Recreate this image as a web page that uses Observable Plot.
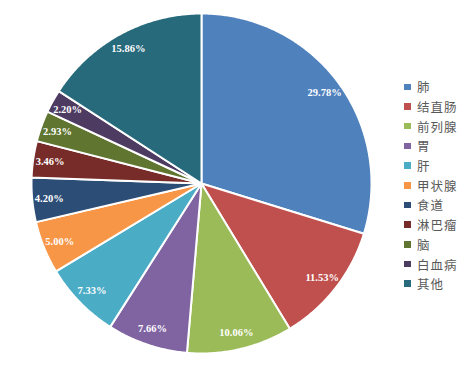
<!DOCTYPE html>
<html>
<head>
<meta charset="utf-8">
<script src="https://cdn.jsdelivr.net/npm/d3@7"></script>
<script src="https://cdn.jsdelivr.net/npm/@observablehq/plot@0.6"></script>
<style>
  html, body { margin: 0; padding: 0; background: #fff; }
  #wrap { position: relative; width: 474px; height: 370px; overflow: hidden; }
  #legend { position: absolute; left: 404px; top: 77px; font-family: "Noto Sans CJK SC", "Noto Sans", sans-serif; font-size: 12.5px; color: #595959; }
  #legend .item { display: flex; align-items: center; height: 19.7px; white-space: nowrap; }
  #legend .sw { width: 6.5px; height: 6.5px; margin-right: 6.5px; flex-shrink: 0; }
  #legend .lb { letter-spacing: 1px; }
</style>
</head>
<body>
<div id="wrap"></div>
<script>
const categories = ["肺", "结直肠", "前列腺", "胃", "肝", "甲状腺", "食道", "淋巴瘤", "脑", "白血病", "其他"];
const shares = [29.78, 11.53, 10.06, 7.66, 7.33, 5.00, 4.20, 3.46, 2.93, 2.20, 15.86];
const labels = ["29.78%", "11.53%", "10.06%", "7.66%", "7.33%", "5.00%", "4.20%", "3.46%", "2.93%", "2.20%", "15.86%"];
const colors = ["#4F81BD", "#C0504D", "#9BBB59", "#8064A2", "#4BACC6", "#F79646", "#2C4D75", "#772C2A", "#5F7530", "#4D3B62", "#276A7C"];

const rows = categories.map((c, i) => ({category: c, value: shares[i], label: labels[i]}));
const arcs = d3.pie().sort(null).value(d => d.value)(rows);

// slice outlines (unit circle, angle measured clockwise from 12 o'clock)
const outline = [];
arcs.forEach(a => {
  const c = a.data.category;
  outline.push({category: c, x: 0, y: 0});
  const n = Math.max(2, Math.ceil((a.endAngle - a.startAngle) / (Math.PI / 360)));
  for (let k = 0; k <= n; k++) {
    const t = a.startAngle + (a.endAngle - a.startAngle) * k / n;
    outline.push({category: c, x: Math.sin(t), y: Math.cos(t)});
  }
  outline.push({category: c, x: 0, y: 0});
});

const labelPts = arcs.map(a => {
  const m = (a.startAngle + a.endAngle) / 2;
  return {label: a.data.label, x: 0.9 * Math.sin(m), y: 0.9 * Math.cos(m)};
});

const chart = Plot.plot({
  width: 474,
  height: 370,
  marginLeft: 31,
  marginRight: 103,
  marginTop: 13,
  marginBottom: 17,
  x: {domain: [-1, 1], axis: null},
  y: {domain: [-1, 1], axis: null},
  color: {domain: categories, range: colors},
  style: {background: "#fff"},
  marks: [
    Plot.line(outline, {x: "x", y: "y", z: "category", fill: "category", stroke: "white", strokeWidth: 2, strokeLinejoin: "round", curve: "linear"}),
    Plot.text(labelPts, {x: "x", y: "y", text: "label", fill: "white", fontWeight: "bold", fontSize: 10.5, fontFamily: "'Liberation Serif', 'DejaVu Serif', serif"})
  ]
});

const wrap = document.getElementById("wrap");
wrap.appendChild(chart);

const colorScale = chart.scale("color");
const legend = d3.select(wrap).append("div").attr("id", "legend");
const items = legend.selectAll("div").data(colorScale.domain).join("div").attr("class", "item");
items.append("span").attr("class", "sw").style("background", (d, i) => colorScale.range[i]);
items.append("span").attr("class", "lb").text(d => d);
</script>
</body>
</html>
